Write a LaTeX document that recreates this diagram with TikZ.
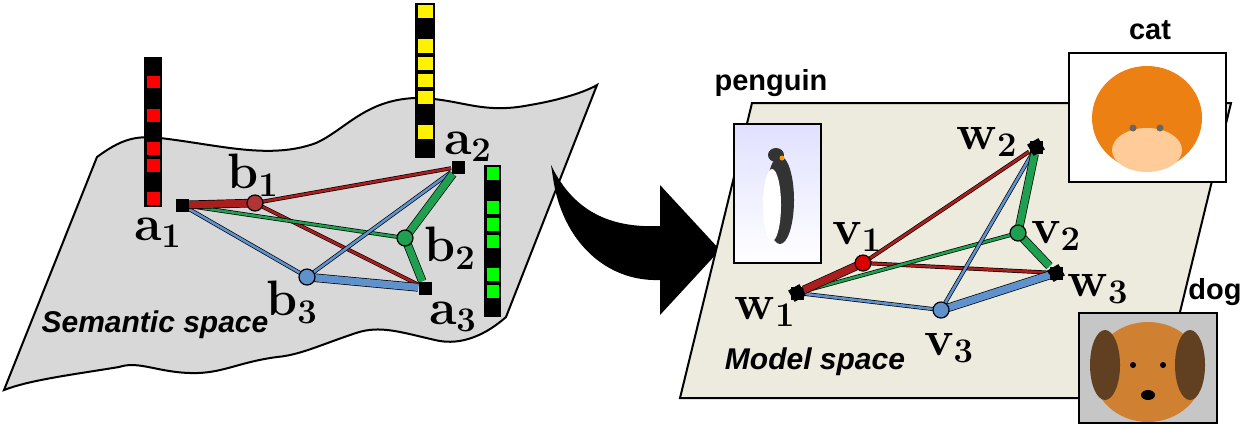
\documentclass[tikz,border=0pt]{standalone}
\usepackage[no-math]{fontspec}
\setmainfont{Liberation Sans}
\begin{document}
\begin{tikzpicture}[x=0.5pt,y=-0.5pt,
 sq/.style={fill=black,minimum size=6.5pt,inner sep=0pt},
 dot/.style={circle,draw=black,line width=0.6pt,minimum size=8pt,inner sep=0pt},
 lbl/.style={font=\fontsize{23}{26}\selectfont,inner sep=0pt},
 thin/.style={draw=black,line width=0.35pt,double distance=1.3pt,double=#1},
 thick/.style={draw=black,line width=0.35pt,double distance=3.6pt,double=#1},
 capt/.style={font=\fontsize{14.5}{16}\selectfont\bfseries},
 capi/.style={font=\fontsize{15}{17}\selectfont\bfseries\itshape},
 photo/.style={draw=black,line width=1.2pt}]
\definecolor{er}{RGB}{170,30,30}\definecolor{eg}{RGB}{30,160,80}\definecolor{eb}{RGB}{95,145,205}
\definecolor{sheet}{RGB}{216,216,216}\definecolor{plane}{RGB}{237,234,222}
\useasboundingbox (0,0) rectangle (1245,430);
% semantic sheet
\draw[fill=sheet,line width=1pt] (97,157) .. controls (120,140) and (135,135) .. (160,138)
 .. controls (220,145) and (270,160) .. (316,143) .. controls (345,130) and (365,100) .. (415,98)
 .. controls (460,98) and (480,115) .. (530,105) .. controls (560,100) and (585,92) .. (597,85)
 -- (506,317) .. controls (480,340) and (455,345) .. (435,340) .. controls (400,332) and (380,325) .. (356,333)
 .. controls (320,345) and (300,355) .. (277,357) .. controls (240,362) and (225,372) .. (198,373)
 .. controls (160,374) and (140,360) .. (119,367) .. controls (70,375) and (30,380) .. (4,390) -- cycle;
% bars
\foreach \i in {0,...,8}{\pgfmathsetmacro\y{57+\i*16.67}
 \fill[black] (144,\y) rectangle (162,\y+16.67);}
\foreach \i in {1,3,5,6,8}{\pgfmathsetmacro\y{57+\i*16.67}\fill[red] (146.5,\y+2) rectangle (159.5,\y+14.6);}
\foreach \i in {0,...,8}{\pgfmathsetmacro\y{3+\i*17.2}\fill[black] (415,\y) rectangle (435,\y+17.2);}
\foreach \i in {0,2,3,4,5,7}{\pgfmathsetmacro\y{3+\i*17.2}\fill[yellow] (417.5,\y+2) rectangle (432.5,\y+15.2);}
\foreach \i in {0,...,8}{\pgfmathsetmacro\y{165+\i*16.9}\fill[black] (484,\y) rectangle (501,\y+16.9);}
\foreach \i in {0,2,3,4,6,7}{\pgfmathsetmacro\y{165+\i*16.9}\fill[green] (486.5,\y+2) rectangle (498.5,\y+14.9);}
% left nodes
\node[sq] (a1) at (182,205) {};\node[sq] (a2) at (458,167) {};\node[sq] (a3) at (425,288) {};
\coordinate (B1) at (255,203);\coordinate (B2) at (405,238);\coordinate (B3) at (307,277);
\draw[thin=er] (B1)--(a2) (B1)--(a3);
\draw[thin=eg] (a1)--(B2);
\draw[thin=eb] (a1)--(B3) (B3)--(a2);
\draw[thick=er] (a1)--(B1);
\draw[thick=eg] (B2)--(a2) (B2)--(a3);
\draw[thick=eb] (B3)--(a3);
\node[dot,fill=er!90] (b1) at (B1) {};\node[dot,fill=eg] (b2) at (B2) {};\node[dot,fill=eb] (b3) at (B3) {};
\node[sq] at (a1) {};\node[sq] at (a2) {};\node[sq] at (a3) {};
\node[lbl] (la1) at (158,233) {$\mathbf{a}_{\mathbf{1}}$};
\node[lbl] (lb1) at (253,175) {$\mathbf{b}_{\mathbf{1}}$};
\node[lbl] (la2) at (468,147) {$\mathbf{a}_{\mathbf{2}}$};
\node[lbl] (lb2) at (450,248) {$\mathbf{b}_{\mathbf{2}}$};
\node[lbl] (lb3) at (292,302) {$\mathbf{b}_{\mathbf{3}}$};
\node[lbl] (la3) at (453,317) {$\mathbf{a}_{\mathbf{3}}$};
\node[capi] (sem) at (155,325) {Semantic space};
% arrow
\fill[black] (551,165) .. controls (575,215) and (615,228) .. (660,226) -- (660,185) -- (720,250) -- (660,315)
 -- (660,280) .. controls (605,282) and (562,240) .. (553,178) -- cycle;
% model plane
\draw[fill=plane,line width=1pt] (680,398) -- (1159,398) -- (1231,103) -- (752,103) -- cycle;
\node[sq] (w1) at (797,293) {};\node[sq] (w2) at (1036,147) {};\node[sq] (w3) at (1056,273) {};
\coordinate (V1) at (863,263);\coordinate (V2) at (1018,233);\coordinate (V3) at (941,310);
\draw[thin=er] (V1)--(w2) (V1)--(w3);
\draw[thin=eg] (w1)--(V2);
\draw[thin=eb] (w1)--(V3) (V3)--(w2);
\draw[thick=er] (w1)--(V1);
\draw[thick=eg] (V2)--(w2) (V2)--(w3);
\draw[thick=eb] (V3)--(w3);
\node[dot,fill=red!85!black] (v1) at (V1) {};\node[dot,fill=eg] (v2) at (V2) {};\node[dot,fill=eb] (v3) at (V3) {};
\node[sq,rotate=30] at (w1) {};\node[sq,rotate=30] at (w2) {};\node[sq,rotate=30] at (w3) {};
\node[lbl] (lw1) at (765,312) {$\mathbf{w}_{\mathbf{1}}$};
\node[lbl] (lv1) at (857,237) {$\mathbf{v}_{\mathbf{1}}$};
\node[lbl] (lw2) at (987,142) {$\mathbf{w}_{\mathbf{2}}$};
\node[lbl] (lv2) at (1056,236) {$\mathbf{v}_{\mathbf{2}}$};
\node[lbl] (lw3) at (1098,289) {$\mathbf{w}_{\mathbf{3}}$};
\node[lbl] (lv3) at (949,348) {$\mathbf{v}_{\mathbf{3}}$};
\node[capi] (mod) at (815,362) {Model space};
% photos
\shade[top color=blue!12,bottom color=white] (734,124) rectangle (821,263);
\fill[black!80] (780,200) ellipse (14 and 44);
\fill[white] (772,205) ellipse (9 and 36);
\fill[black!80] (776,155) ellipse (8 and 7);
\fill[orange!80!yellow] (782,158) circle (2.5);
\draw[photo] (734,124) rectangle (821,263);
\fill[white] (1069,53) rectangle (1226,182);
\fill[orange!70!brown] (1147,118) ellipse (55 and 52);
\fill[orange!40!white] (1147,150) ellipse (35 and 22);
\fill[black!60] (1133,128) circle (3.5) (1160,128) circle (3.5);
\draw[photo] (1069,53) rectangle (1226,182);
\fill[gray!45] (1079,313) rectangle (1217,423);
\fill[brown!75!orange] (1148,372) ellipse (55 and 50);
\fill[brown!50!black] (1105,365) ellipse (15 and 35) (1190,365) ellipse (15 and 35);
\fill[black] (1133,365) circle (3) (1163,365) circle (3) (1148,395) ellipse (7 and 5);
\draw[photo] (1079,313) rectangle (1217,423);
\node[capt] (lp) at (771,83) {penguin};
\node[capt] (lc) at (1150,30) {cat};
\node[capt,anchor=east,inner sep=1pt] (ld) at (1244,292) {dog};
\end{tikzpicture}
\end{document}
